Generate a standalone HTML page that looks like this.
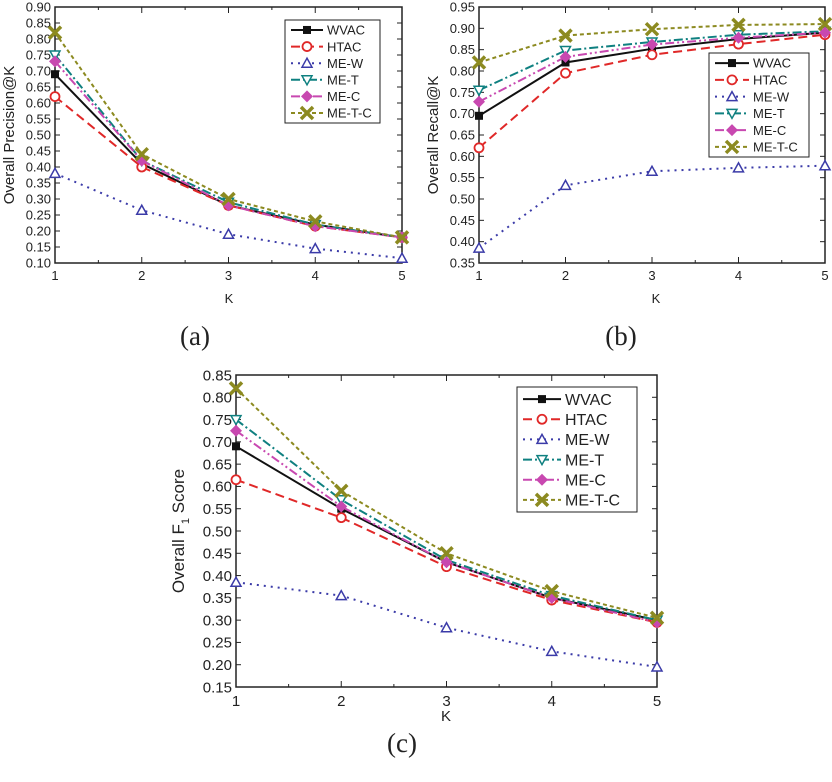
<!DOCTYPE html>
<html><head><meta charset="utf-8"><style>
body{margin:0;background:#fff;width:832px;height:782px;overflow:hidden}
svg{display:block}
text{font-family:"Liberation Sans",sans-serif;fill:#222}
.cap{font-family:"Liberation Serif",serif;font-size:27px}
</style></head><body>
<svg id="s" width="832" height="782"></svg>
<script>
const kValues=[1,2,3,4,5];
const seriesNames=["WVAC","HTAC","ME-W","ME-T","ME-C","ME-T-C"];
const precWVAC=[0.69,0.41,0.28,0.22,0.18];
const precHTAC=[0.62,0.40,0.28,0.215,0.18];
const precMEW=[0.38,0.265,0.19,0.145,0.115];
const precMET=[0.75,0.42,0.29,0.22,0.18];
const precMEC=[0.73,0.42,0.28,0.215,0.18];
const precMETC=[0.82,0.44,0.30,0.23,0.18];
const recWVAC=[0.695,0.82,0.852,0.875,0.89];
const recHTAC=[0.62,0.795,0.838,0.863,0.885];
const recMEW=[0.385,0.532,0.565,0.573,0.578];
const recMET=[0.755,0.848,0.868,0.885,0.893];
const recMEC=[0.728,0.833,0.862,0.878,0.89];
const recMETC=[0.82,0.883,0.898,0.908,0.91];
const f1WVAC=[0.69,0.55,0.43,0.35,0.30];
const f1HTAC=[0.615,0.53,0.42,0.345,0.295];
const f1MEW=[0.385,0.355,0.283,0.23,0.195];
const f1MET=[0.75,0.57,0.435,0.355,0.30];
const f1MEC=[0.725,0.555,0.43,0.35,0.295];
const f1METC=[0.82,0.59,0.45,0.365,0.305];
const styles=[
 {c:"#111",d:"",w:2,m:"sq"},
 {c:"#e02828",d:"9,5",w:2,m:"ci"},
 {c:"#3b3ba8",d:"2,5",w:2,m:"tu"},
 {c:"#0f8080",d:"9,3,2,3",w:2,m:"td"},
 {c:"#c848b0",d:"9,3,2,3,2,3",w:2,m:"st"},
 {c:"#8c8a20",d:"4,3",w:2,m:"x"}];
const NS="http://www.w3.org/2000/svg";
const svg=document.getElementById('s');
function el(t,a,p){const e=document.createElementNS(NS,t);for(const k in a)e.setAttribute(k,a[k]);(p||svg).appendChild(e);return e;}
function marker(g,type,x,y,c){
 let e;
 if(type=="sq")e=el('rect',{x:x-4,y:y-4,width:8,height:8,fill:c},g);
 else if(type=="ci")e=el('circle',{cx:x,cy:y,r:4.5,fill:"#fff",stroke:c,"stroke-width":1.8},g);
 else if(type=="tu")e=el('polygon',{points:`${x},${y-5} ${x-5},${y+4} ${x+5},${y+4}`,fill:"#fff",stroke:c,"stroke-width":1.5},g);
 else if(type=="td")e=el('polygon',{points:`${x},${y+5} ${x-5},${y-4} ${x+5},${y-4}`,fill:"#fff",stroke:c,"stroke-width":1.5},g);
 else if(type=="st")e=el('polygon',{points:`${x},${y-6} ${x+6},${y} ${x},${y+6} ${x-6},${y}`,fill:c},g);
 else {e=el('path',{d:`M${x-6},${y-6}L${x+6},${y+6}M${x+6},${y-6}L${x-6},${y+6}`,stroke:c,"stroke-width":3.5},g);}
 
 
}
function chart(o){
 const g=el('g',{});
 
 
 const X=v=>o.x0+(v-1)/4*(o.x1-o.x0);
 const Y=v=>o.y1-(v-o.ymin)/(o.ymax-o.ymin)*(o.y1-o.y0);
 const box=el('rect',{x:o.x0,y:o.y0,width:o.x1-o.x0,height:o.y1-o.y0,fill:"none",stroke:"#222","stroke-width":1.5},g);
 
 for(let v=o.ymin;v<=o.ymax+1e-9;v+=0.05){
  const y=Y(v);
  el('line',{x1:o.x0,x2:o.x0+5,y1:y,y2:y,stroke:"#222"},g);
  el('line',{x1:o.x1,x2:o.x1-5,y1:y,y2:y,stroke:"#222"},g);
  const t=el('text',{x:o.x0-4,y:y+o.fs*0.35,"text-anchor":"end","font-size":o.fs},g);t.textContent=v.toFixed(2);
  
 }
 for(let k=1;k<=5;k+=0.5){
  const x=X(k),len=(k%1)?3:6;
  el('line',{x1:x,x2:x,y1:o.y1,y2:o.y1-len,stroke:"#222"},g);
  el('line',{x1:x,x2:x,y1:o.y0,y2:o.y0+len,stroke:"#222"},g);
 }
 kValues.forEach(k=>{const t=el('text',{x:X(k),y:o.y1+o.fs+4,"text-anchor":"middle","font-size":o.fs},g);t.textContent=k;
  });
 const xt=el('text',{x:o.kx,y:o.ky,"text-anchor":"middle","font-size":o.fs},g);xt.textContent="K";
 
 const yt=el('text',{x:0,y:0,"text-anchor":"middle","font-size":o.fs+2,transform:`translate(${o.ytx},${(o.y0+o.y1)/2}) rotate(-90)`},g);
 yt.innerHTML=o.ytitle;
 
 o.data.forEach((arr,i)=>{
  const s=styles[i];
  const p=el('polyline',{points:arr.map((v,j)=>X(kValues[j])+","+Y(v)).join(" "),fill:"none",stroke:s.c,"stroke-width":s.w,"stroke-dasharray":s.d},g);
  
  arr.forEach((v,j)=>marker(g,s.m,X(kValues[j]),Y(v),s.c));
 });
 const L=o.leg;
 const lg=el('g',{},g);
 
 el('rect',{x:L.x,y:L.y,width:L.w,height:L.h,fill:"#fff",stroke:"#222"},lg);
 const rh=L.h/6.2;
 seriesNames.forEach((n,i)=>{
  const s=styles[i],y=L.y+rh*(i+0.6);
  el('line',{x1:L.x+6,x2:L.x+6+L.ll,y1:y,y2:y,stroke:s.c,"stroke-width":s.w,"stroke-dasharray":s.d},lg);
  marker(lg,s.m,L.x+6+L.ll/2,y,s.c);
  const t=el('text',{x:L.x+10+L.ll,y:y+L.fs*0.36,"font-size":L.fs},lg);t.textContent=n;
  
 });
 const c=el('text',{x:o.capx,y:o.capy,"text-anchor":"middle",class:"cap"});c.textContent=o.cap;
 
}
chart({name:"precision-chart",x0:55,x1:402,y0:7,y1:263,ymin:0.10,ymax:0.90,fs:13,ytx:14,ytitle:"Overall Precision@K",kx:229,ky:303,
 data:[precWVAC,precHTAC,precMEW,precMET,precMEC,precMETC],leg:{x:285,y:20,w:95,h:103,ll:32,fs:13},cap:"(a)",capx:195,capy:345});
chart({name:"recall-chart",x0:479,x1:825,y0:7,y1:263,ymin:0.35,ymax:0.95,fs:13,ytx:438,ytitle:"Overall Recall@K",kx:656,ky:303,
 data:[recWVAC,recHTAC,recMEW,recMET,recMEC,recMETC],leg:{x:709,y:53,w:100,h:104,ll:34,fs:13},cap:"(b)",capx:621,capy:345});
chart({name:"f1-chart",x0:236,x1:657,y0:375,y1:687,ymin:0.15,ymax:0.85,fs:15,ytx:184,ytitle:"Overall F<tspan font-size='11' dy='5'>1</tspan><tspan dy='-5'> Score</tspan>",kx:446,ky:721,
 data:[f1WVAC,f1HTAC,f1MEW,f1MET,f1MEC,f1METC],leg:{x:517,y:387,w:120,h:125,ll:38,fs:16},cap:"(c)",capx:402,capy:752});
</script>
</body></html>
